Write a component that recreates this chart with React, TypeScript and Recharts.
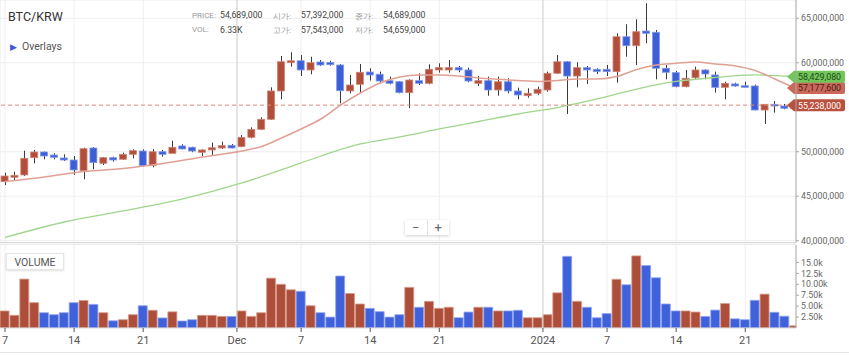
import React from "react";
import { Bar, CartesianGrid, Cell, ComposedChart, Line, ReferenceLine, XAxis, YAxis } from "recharts";

const FONT = "Roboto, 'Noto Sans', sans-serif";

const dates = [
  "11-07", "11-08", "11-09", "11-10", "11-11", "11-12", "11-13", "11-14", "11-15", "11-16",
  "11-17", "11-18", "11-19", "11-20", "11-21", "11-22", "11-23", "11-24", "11-25", "11-26",
  "11-27", "11-28", "11-29", "11-30", "12-01", "12-02", "12-03", "12-04", "12-05", "12-06",
  "12-07", "12-08", "12-09", "12-10", "12-11", "12-12", "12-13", "12-14", "12-15", "12-16",
  "12-17", "12-18", "12-19", "12-20", "12-21", "12-22", "12-23", "12-24", "12-25", "12-26",
  "12-27", "12-28", "12-29", "12-30", "12-31", "01-01", "01-02", "01-03", "01-04", "01-05",
  "01-06", "01-07", "01-08", "01-09", "01-10", "01-11", "01-12", "01-13", "01-14", "01-15",
  "01-16", "01-17", "01-18", "01-19", "01-20", "01-21", "01-22", "01-23", "01-24", "01-25",
  "01-26",
];

// prices in millions of KRW
const opens = [
  46.63, 47.13, 47.39, 49.33, 49.97, 49.63, 49.3, 49.07, 47.87, 50.42,
  48.7, 49.33, 49.15, 49.71, 50.08, 48.43, 50.0, 49.82, 50.65, 50.5,
  49.94, 50.2, 50.42, 50.72, 50.57, 51.62, 52.52, 53.65, 56.83, 60.01,
  60.23, 59.19, 60.09, 60.05, 59.75, 56.83, 57.58, 58.96, 58.71, 57.99,
  57.87, 56.64, 57.99, 57.69, 59.19, 59.19, 59.45, 59.19, 57.69, 57.99,
  56.94, 57.87, 56.83, 56.3, 56.57, 56.94, 58.82, 60.12, 58.51, 59.45,
  59.27, 59.27, 59.0, 62.93, 61.92, 63.57, 63.43, 59.38, 58.89, 57.31,
  58.32, 59.19, 58.63, 57.24, 57.62, 57.42, 57.392, 54.69, 55.33, 55.14,
  54.88,
];
const highs = [
  47.64, 47.76, 50.12, 50.2, 50.03, 49.82, 49.71, 49.52, 50.45, 50.53,
  49.41, 49.44, 49.89, 50.27, 50.27, 50.31, 50.2, 51.24, 50.84, 50.57,
  50.27, 51.02, 51.13, 50.87, 51.88, 52.75, 53.87, 57.24, 60.76, 61.18,
  60.87, 60.68, 60.31, 60.23, 59.86, 58.63, 59.86, 59.38, 59.0, 58.44,
  57.95, 58.14, 58.82, 59.83, 59.94, 60.31, 59.64, 59.45, 58.51, 58.44,
  58.44, 58.26, 57.2, 57.13, 57.31, 59.0, 60.87, 60.2, 60.05, 59.64,
  59.38, 59.75, 63.31, 64.33, 64.89, 66.69, 63.69, 59.75, 59.08, 59.19,
  59.56, 59.27, 59.0, 57.87, 57.76, 57.87, 57.543, 55.37, 55.7, 55.37,
  55.3,
];
const lows = [
  46.26, 46.82, 47.27, 48.7, 49.15, 49.15, 48.96, 47.39, 46.9, 48.03,
  48.51, 48.88, 49.07, 49.26, 48.32, 48.25, 49.44, 49.82, 50.27, 49.94,
  49.52, 49.52, 50.31, 50.39, 50.5, 51.51, 52.44, 53.57, 55.9, 59.56,
  58.51, 58.71, 59.64, 59.67, 55.44, 56.57, 56.57, 57.99, 57.69, 57.58,
  56.57, 54.88, 57.5, 57.58, 58.89, 58.89, 58.93, 57.81, 57.39, 56.3,
  56.3, 56.57, 55.9, 56.07, 56.38, 56.75, 58.74, 54.24, 57.24, 57.62,
  58.74, 58.51, 57.76, 60.68, 59.75, 62.19, 58.14, 58.14, 57.24, 57.24,
  58.14, 58.14, 56.64, 55.9, 57.31, 57.24, 54.659, 53.12, 54.39, 54.77,
  54.8,
];
const closes = [
  47.27, 47.35, 49.26, 49.97, 49.52, 49.37, 49.07, 47.95, 50.34, 48.77,
  49.33, 49.07, 49.71, 50.12, 48.43, 50.0, 49.71, 50.5, 50.31, 50.08,
  50.2, 50.45, 50.68, 50.42, 51.62, 52.52, 53.65, 56.83, 60.12, 60.23,
  59.19, 60.01, 59.75, 59.78, 56.86, 57.5, 58.93, 58.63, 57.95, 57.69,
  56.64, 58.06, 57.69, 59.27, 59.45, 59.45, 59.19, 57.95, 57.99, 56.94,
  57.87, 56.83, 56.38, 56.57, 57.02, 58.82, 60.12, 58.51, 59.45, 59.19,
  59.0, 59.0, 62.93, 61.92, 63.49, 63.31, 59.38, 58.93, 57.31, 58.26,
  59.19, 58.74, 57.24, 57.69, 57.39, 57.24, 54.689, 55.33, 55.14, 54.88,
  55.238,
];
// volume in thousands
const volumes = [
  3.9, 2.9, 11.2, 5.8, 3.5, 3.05, 3.5, 5.8, 6.3, 5.4,
  3.5, 1.65, 1.9, 3.05, 5.1, 4.05, 2.3, 3.7, 1.6, 1.9,
  2.9, 2.9, 2.65, 2.65, 3.9, 2.65, 3.5, 11.4, 10.0, 8.75,
  8.4, 5.1, 3.5, 2.5, 11.9, 7.9, 5.5, 4.5, 3.75, 2.5,
  3.05, 9.3, 4.75, 6.1, 4.5, 4.75, 2.35, 3.65, 4.75, 4.75,
  3.9, 3.9, 4.05, 2.35, 2.35, 3.05, 8.05, 16.4, 6.1, 4.75,
  2.35, 3.3, 11.15, 9.9, 16.5, 14.3, 11.5, 5.5, 3.9, 3.9,
  3.65, 2.65, 4.1, 5.6, 2.1, 1.9, 6.33, 7.75, 3.6, 2.7,
  0.5,
];

// overlay lines read at some candles: [candle index, millions]
const maShort: [number, number][] = [
  [0, 46.65], [4, 47.16], [8, 47.78], [12, 48.12], [16, 48.68], [20, 49.41], [24, 50.08],
  [26, 50.59], [28, 51.54], [30, 52.56], [32, 53.68], [34, 55.25], [36, 56.6], [38, 57.73],
  [40, 58.4], [42, 58.63], [44, 58.63], [46, 58.51], [48, 58.29], [50, 58.14], [52, 58.01],
  [54, 57.9], [56, 58.01], [58, 58.18], [60, 58.18], [62, 58.46], [64, 59.24], [66, 59.75],
  [68, 59.94], [70, 60.09], [72, 59.86], [74, 59.64], [76, 59.13], [78, 58.18], [80, 57.1776],
];
const maLong: [number, number][] = [
  [0, 40.36], [6, 42.1], [12, 43.34], [18, 44.69], [24, 46.49], [28, 47.95], [32, 49.52],
  [36, 50.87], [40, 51.66], [44, 52.56], [48, 53.4], [52, 54.24], [56, 54.97], [60, 55.93],
  [64, 57.05], [68, 57.9], [72, 58.35], [76, 58.63], [80, 58.42908],
];

const tickIndex = [0, 7, 14, 23.5, 30, 37, 44, 54.5, 61, 68, 75];
const tickLabels = ["7", "14", "21", "Dec", "7", "14", "21", "2024", "7", "14", "21"];
const monthTicks = [23.5, 54.5];

const priceTicks = [40e6, 45e6, 50e6, 60e6, 65e6];
const volumeTicks = [2500, 5000, 7500, 10000, 12500, 15000];
const volumeTickLabels = ["2.50k", "5.00k", "7.50k", "10.00k", "12.5k", "15.0k"];

const lastPrice = 55238000;
const lastMaShort = 57177600;
const lastMaLong = 58429080;

const infoRow1 = [["PRICE:", "54,689,000"], ["시가:", "57,392,000"], ["종가:", "54,689,000"]];
const infoRow2 = [["VOL:", "6.33K"], ["고가:", "57,543,000"], ["저가:", "54,659,000"]];

const RED = "#b24f3b";
const RED_EDGE = "#cf8474";
const BLUE = "#3c5fd8";
const BLUE_EDGE = "#8198e8";
const AXIS_FONT = 8.8;

const X_DOMAIN: [number, number] = [-0.507, 80.14];

const rows = dates.map((date, i) => ({
  i,
  date,
  open: opens[i] * 1e6,
  high: highs[i] * 1e6,
  low: lows[i] * 1e6,
  close: closes[i] * 1e6,
  vol: volumes[i] * 1000,
}));
const shortRows = maShort.map(([i, v]) => ({ i, ma: v * 1e6 }));
const longRows = maLong.map(([i, v]) => ({ i, ma: v * 1e6 }));

function Candle(props: any) {
  const { x, y, width, height, payload } = props;
  if (!payload || height == null) return null;
  const { open, high, low, close } = payload;
  const span = high - low || 1;
  const py = (v: number) => y + ((high - v) / span) * height;
  const up = close >= open;
  const cx = Math.round(x + width / 2) + 0.5;
  const top = py(Math.max(open, close));
  const bot = py(Math.min(open, close));
  return (
    <g>
      <line x1={cx} x2={cx} y1={y} y2={y + height} stroke="#3a3a3a" strokeWidth={1} />
      <rect
        x={x}
        y={top}
        width={width}
        height={Math.max(bot - top, 1.5)}
        fill={up ? RED : BLUE}
        stroke={up ? RED_EDGE : BLUE_EDGE}
        strokeWidth={0.8}
      />
    </g>
  );
}

function PriceTag({ viewBox, text, fill, color }: any) {
  if (!viewBox) return null;
  const right = viewBox.x + viewBox.width;
  const y = viewBox.y;
  const left = right - 9;
  const end = 845;
  const h = 6;
  const d = `M ${left} ${y} L ${left + 7} ${y - h} H ${end - 2} Q ${end} ${y - h} ${end} ${y - h + 2} V ${y + h - 2} Q ${end} ${y + h} ${end - 2} ${y + h} H ${left + 7} Z`;
  return (
    <g>
      <path d={d} fill={fill} />
      <text x={left + 11} y={y + 0.5} fontSize={AXIS_FONT} fill={color} dominantBaseline="central" fontFamily={FONT}>
        {text}
      </text>
    </g>
  );
}

const fmt = (v: number) => Math.round(v).toLocaleString("en-US");

function PriceChart() {
  return (
    <ComposedChart width={849} height={250} data={rows} margin={{ top: 0, right: 0, left: 0, bottom: 7 }}>
      <CartesianGrid stroke="#eeeeee" />
      <XAxis
        dataKey="i"
        type="number"
        domain={X_DOMAIN}
        allowDataOverflow
        ticks={tickIndex}
        height={0}
        hide
      />
      <YAxis
        orientation="right"
        width={53}
        domain={[39.74e6, 67.057e6]}
        allowDataOverflow
        ticks={priceTicks}
        interval={0}
        tickFormatter={fmt}
        tick={{ fontSize: AXIS_FONT, fill: "#666" }}
        axisLine={{ stroke: "#aaa" }}
        tickLine={{ stroke: "#aaa" }}
        tickSize={3}
        tickMargin={2}
      />
      {monthTicks.map((t) => (
        <ReferenceLine key={t} x={t} stroke="#d2d2d2" />
      ))}
      <Line
        data={longRows}
        dataKey="ma"
        type="monotone"
        stroke="#9fd68c"
        strokeWidth={1.3}
        dot={false}
        activeDot={false}
        isAnimationActive={false}
      />
      <Line
        data={shortRows}
        dataKey="ma"
        type="monotone"
        stroke="#e0a194"
        strokeWidth={1.5}
        dot={false}
        activeDot={false}
        isAnimationActive={false}
      />
      <Bar
        dataKey={(r: any) => [r.low, r.high]}
        barSize={7}
        shape={(p: any) => <Candle {...p} />}
        isAnimationActive={false}
      />
      <ReferenceLine
        y={lastPrice}
        stroke="#e2887a"
        strokeDasharray="4 3"
        label={(p: any) => <PriceTag viewBox={p.viewBox} text={fmt(lastPrice)} fill="#b9513e" color="#ffffff" />}
      />
      <ReferenceLine
        y={lastMaShort}
        stroke="none"
        label={(p: any) => <PriceTag viewBox={p.viewBox} text={fmt(lastMaShort)} fill="#c9685b" color="#4a1a12" />}
      />
      <ReferenceLine
        y={lastMaLong}
        stroke="none"
        label={(p: any) => <PriceTag viewBox={p.viewBox} text={fmt(lastMaLong)} fill="#72c65a" color="#1f4a17" />}
      />
    </ComposedChart>
  );
}

function VolumeChart() {
  return (
    <ComposedChart width={849} height={112} data={rows} margin={{ top: 2, right: 0, left: 0, bottom: 0 }}>
      <CartesianGrid stroke="#eeeeee" horizontal={false} />
      <XAxis
        dataKey="i"
        type="number"
        domain={X_DOMAIN}
        allowDataOverflow
        ticks={tickIndex}
        interval={0}
        height={27}
        tickFormatter={(v: number) => tickLabels[tickIndex.indexOf(v)] ?? ""}
        tick={{ fontSize: 11, fill: "#555" }}
        axisLine={{ stroke: "#d8d8d8" }}
        tickLine={{ stroke: "#555" }}
        tickSize={4}
        tickMargin={4}
      />
      <YAxis
        orientation="right"
        width={53}
        domain={[0, 19000]}
        allowDataOverflow
        ticks={volumeTicks}
        interval={0}
        tickFormatter={(v: number) => volumeTickLabels[volumeTicks.indexOf(v)] ?? ""}
        tick={{ fontSize: AXIS_FONT, fill: "#666" }}
        axisLine={{ stroke: "#aaa" }}
        tickLine={{ stroke: "#aaa" }}
        tickSize={3}
        tickMargin={2}
      />
      {monthTicks.map((t) => (
        <ReferenceLine key={t} x={t} stroke="#d2d2d2" />
      ))}
      <Bar dataKey="vol" barSize={9} strokeWidth={0.8} isAnimationActive={false}>
        {rows.map((r) => {
          const up = r.close >= r.open;
          return <Cell key={r.i} fill={up ? "#ad4e3a" : "#3f62dc"} stroke={up ? "#d99a8c" : "#93a6ee"} />;
        })}
      </Bar>
    </ComposedChart>
  );
}

export default function App() {
  const label = { color: "#999", fontSize: 8, display: "inline-block" } as const;
  const value = { color: "#444", fontSize: 8.7, display: "inline-block" } as const;
  const rowStyle = (top: number) => ({ position: "absolute" as const, top, left: 0, whiteSpace: "nowrap" as const });
  const cols = [192, 273, 355];
  const valOffset = 28;
  return (
    <div
      style={{
        position: "absolute",
        left: 0,
        top: 0,
        width: 849,
        height: 355,
        background: "#fff",
        fontFamily: FONT,
        overflow: "hidden",
      }}
    >
      <div style={{ position: "absolute", left: 0, top: 0 }}>
        <PriceChart />
      </div>
      <div style={{ position: "absolute", left: 0, top: 243 }}>
        <VolumeChart />
      </div>
      <div style={{ position: "absolute", left: 0, top: 242, width: 796, height: 1, background: "#d9d9d9" }} />
      <div style={{ position: "absolute", left: 0, top: 244, width: 796, height: 1, background: "#ececec" }} />
      <div style={{ position: "absolute", left: 0, top: 352, width: 849, height: 1, background: "#e4e4e4" }} />

      <div style={{ position: "absolute", left: 8, top: 9, fontSize: 12.5, color: "#333" }}>BTC/KRW</div>
      <div style={{ position: "absolute", left: 10, top: 40, fontSize: 10.5, color: "#555" }}>
        <span style={{ color: "#3b5bdb", fontSize: 9, marginRight: 5 }}>▶</span>Overlays
      </div>

      {[infoRow1, infoRow2].map((row, r) => (
        <div key={r} style={rowStyle(r === 0 ? 10 : 24.5)}>
          {row.map(([k, v], c) => (
            <React.Fragment key={k}>
              <span style={{ ...label, position: "absolute", left: cols[c], top: 0.5 }}>{k}</span>
              <span style={{ ...value, position: "absolute", left: cols[c] + valOffset }}>{v}</span>
            </React.Fragment>
          ))}
        </div>
      ))}

      <div
        style={{
          position: "absolute",
          left: 6,
          top: 253,
          width: 58,
          height: 17,
          background: "#fff",
          border: "1px solid #e6e6e6",
          boxShadow: "0 1px 2px rgba(0,0,0,0.12)",
          fontSize: 10.5,
          color: "#555",
          lineHeight: "17px",
          textAlign: "center",
          boxSizing: "border-box",
        }}
      >
        VOLUME
      </div>

      <div
        style={{
          position: "absolute",
          left: 405,
          top: 220,
          width: 44,
          height: 15,
          background: "#fff",
          boxShadow: "0 1px 3px rgba(0,0,0,0.18)",
          display: "flex",
          fontSize: 13,
          color: "#666",
          lineHeight: "15px",
        }}
      >
        <div style={{ flex: 1, textAlign: "center", borderRight: "1px solid #e2e2e2" }}>−</div>
        <div style={{ flex: 1, textAlign: "center" }}>+</div>
      </div>
    </div>
  );
}
